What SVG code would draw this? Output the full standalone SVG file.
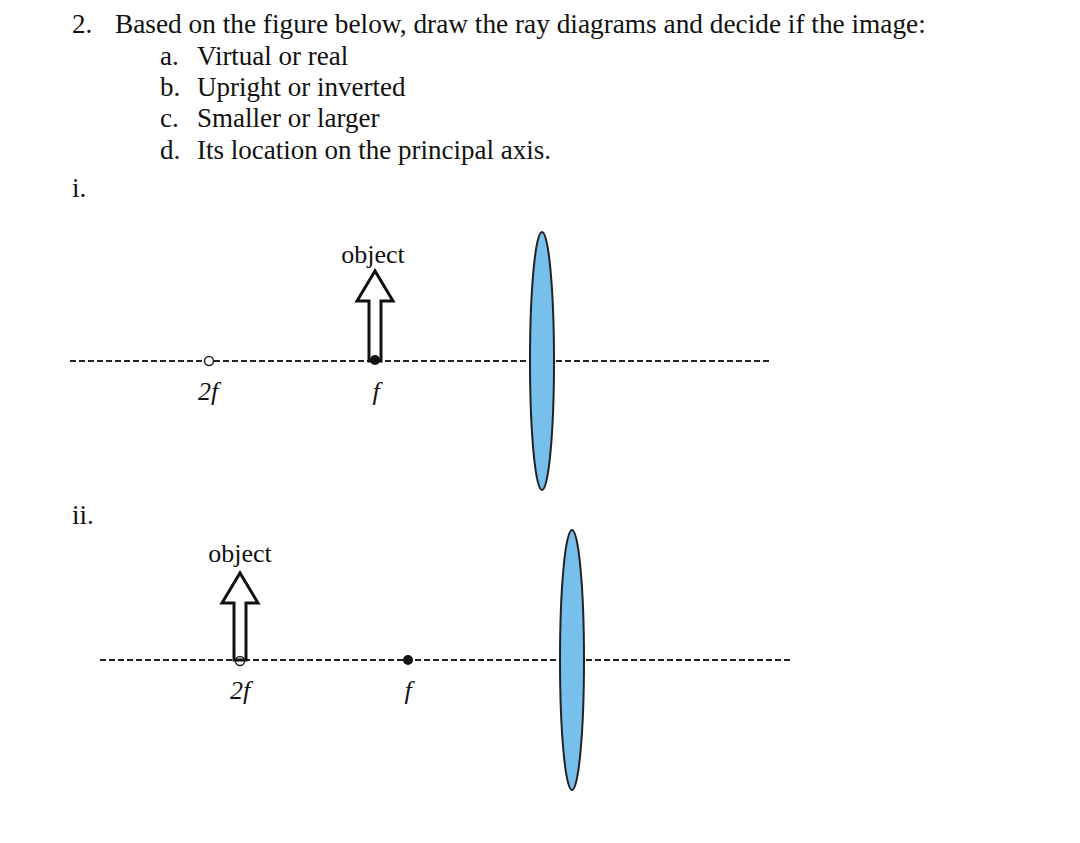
<svg xmlns="http://www.w3.org/2000/svg" width="1080" height="843" viewBox="0 0 1080 843">
<style>
text{font-family:"Liberation Serif",serif;font-size:27px;fill:#111}
.t{font-size:27.3px}
.lbl{font-size:26px}
.it{font-style:italic}
.axis{stroke:#222;stroke-width:2;stroke-dasharray:6 3}
.lens{fill:#77c0ec;stroke:#222;stroke-width:2}
.arrow{fill:#fff;stroke:#111;stroke-width:3}
</style>
<rect width="1080" height="843" fill="#fff"/>
<g id="text">
<text x="72" y="33">2.</text><text class="t" x="115" y="33">Based on the figure below, draw the ray diagrams and decide if the image:</text>
<text x="160" y="65">a.</text><text x="197" y="65">Virtual or real</text>
<text x="160" y="96">b.</text><text x="197" y="96">Upright or inverted</text>
<text x="160" y="127">c.</text><text x="197" y="127">Smaller or larger</text>
<text x="160" y="159">d.</text><text x="197" y="159">Its location on the principal axis.</text>
<text x="72" y="197">i.</text>
<text x="72" y="524">ii.</text>
</g>
<g id="connectors">
<line class="axis" x1="70" y1="361" x2="770" y2="361"/>
<line class="axis" x1="100" y1="660" x2="790" y2="660"/>
</g>
<g id="fig1">
<g id="lens1"><ellipse class="lens" cx="542" cy="361" rx="12" ry="129"/></g>
<g id="p2f1"><circle cx="209" cy="361" r="4.5" fill="#fff" stroke="#222" stroke-width="1.5"/><text class="lbl it" x="208" y="400" text-anchor="middle">2f</text></g>
<g id="object1"><path class="arrow" d="M369,361 V301 H357 L375,271 L393,301 H381 V361 Z"/><circle cx="375" cy="360" r="5" fill="#111"/><text class="lbl" x="373" y="263" text-anchor="middle">object</text><text class="lbl it" x="376" y="400" text-anchor="middle">f</text></g>
</g>
<g id="fig2">
<g id="lens2"><ellipse class="lens" cx="572" cy="660" rx="12" ry="130"/></g>
<g id="object2"><path class="arrow" d="M234,660 V603 H222 L240,573 L258,603 H246 V660 Z"/><circle cx="240" cy="661" r="4.5" fill="none" stroke="#222" stroke-width="1.5"/><text class="lbl" x="240" y="562" text-anchor="middle">object</text><text class="lbl it" x="240" y="699" text-anchor="middle">2f</text></g>
<g id="pf2"><circle cx="408" cy="660" r="5" fill="#111"/><text class="lbl it" x="408" y="699" text-anchor="middle">f</text></g>
</g>
</svg>
